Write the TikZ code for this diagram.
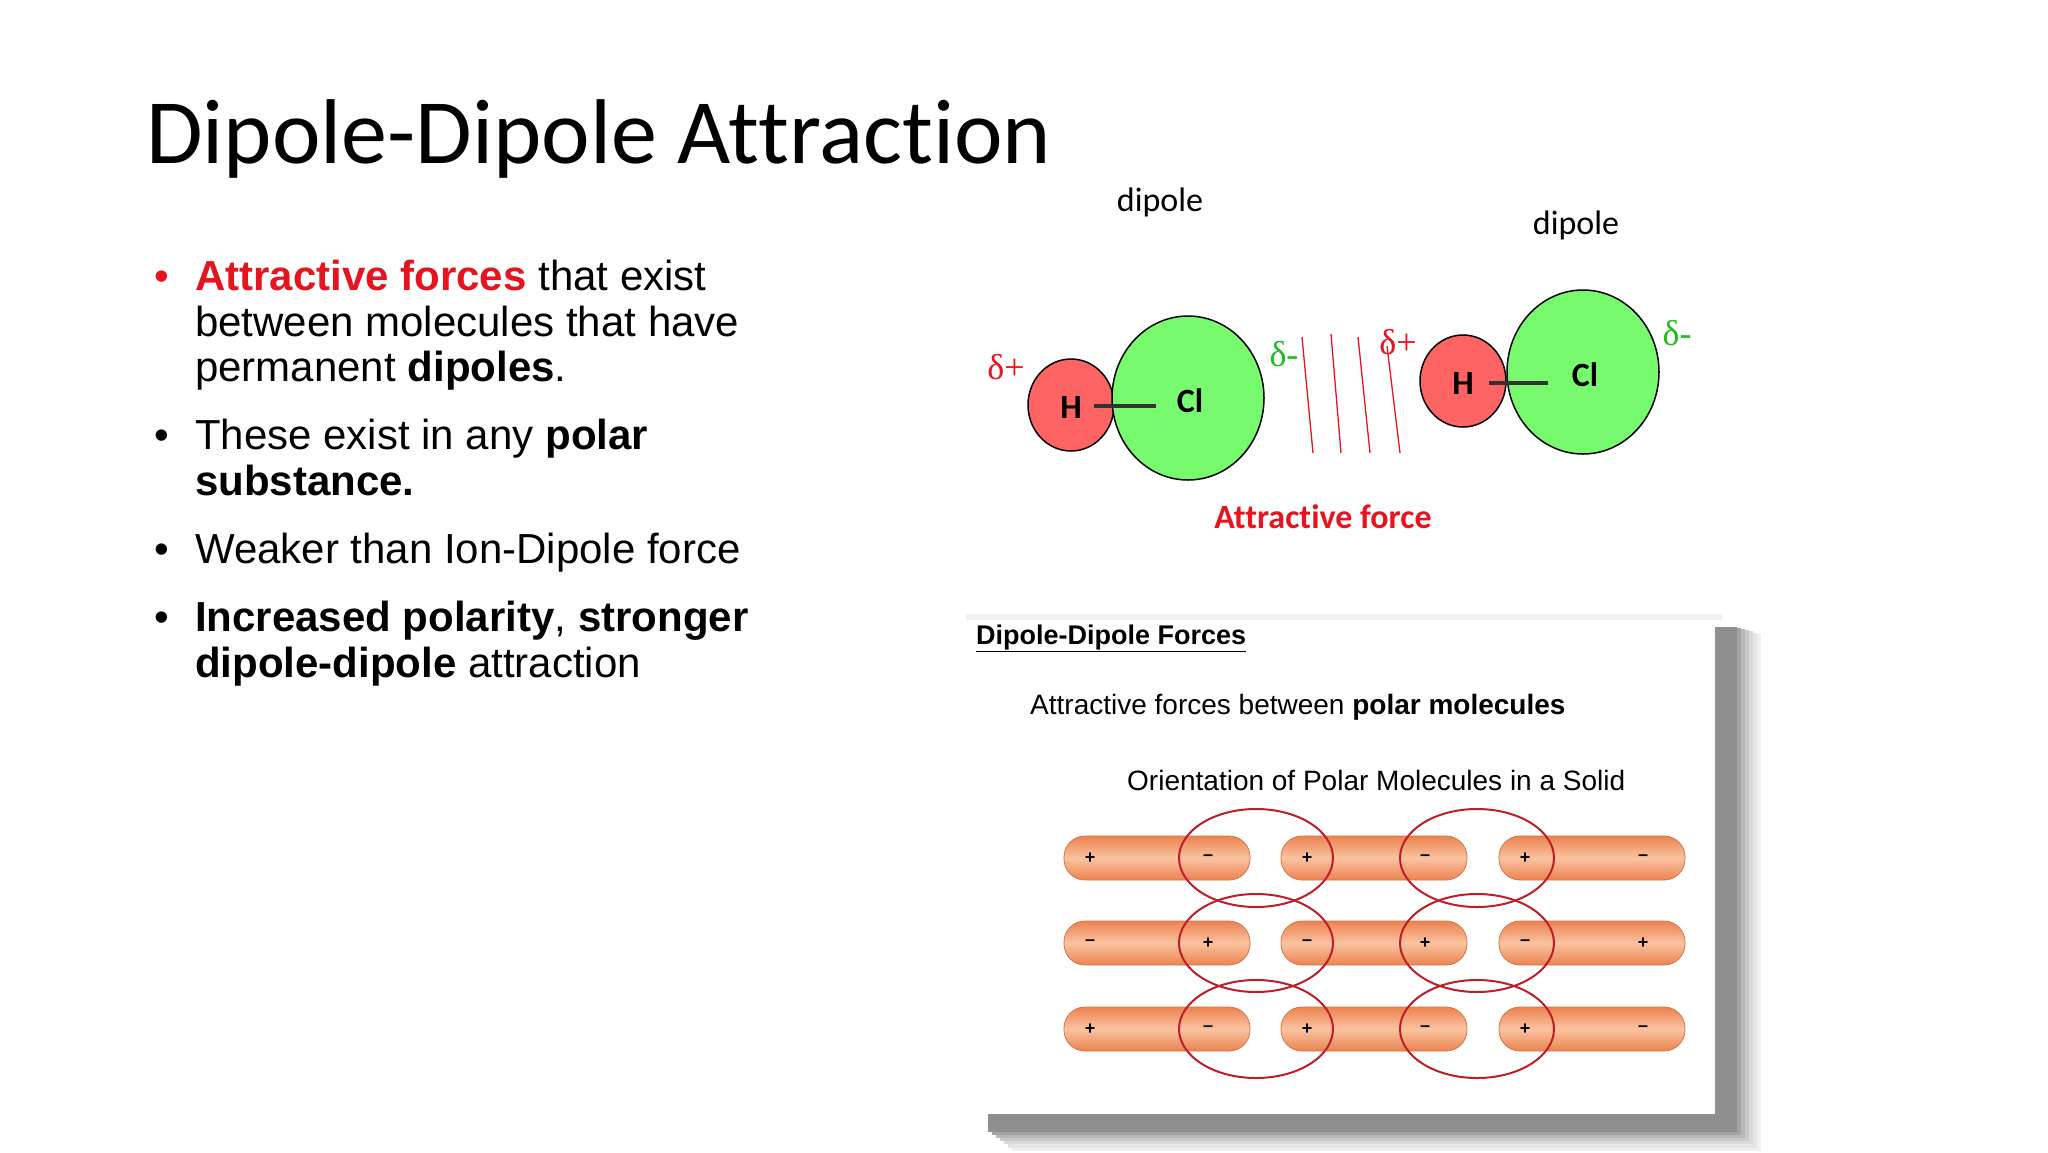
\documentclass[tikz,border=0pt]{standalone}
\usepackage{fontspec}
\setmainfont{Liberation Sans}
\newfontfamily\carl[Ligatures=CommonOff]{Carlito}
\newfontfamily\dserif{Liberation Serif}
\usetikzlibrary{shapes.geometric}
\definecolor{dred}{RGB}{230,20,30}
\definecolor{hred}{RGB}{255,100,100}
\definecolor{clgreen}{RGB}{120,250,110}
\definecolor{dgreen}{RGB}{30,190,30}
\definecolor{ringred}{RGB}{190,30,40}
\definecolor{rodA}{RGB}{236,130,80}
\definecolor{rodB}{RGB}{250,195,160}
\tikzset{
  bul/.style={anchor=base west,font=\fontsize{42}{46}\selectfont,align=left},
  atomH/.style={ellipse,draw=black,line width=1.5pt,fill=hred,minimum width=86pt,minimum height=92pt},
  atomCl/.style={ellipse,draw=black,line width=1.5pt,fill=clgreen,minimum width=152pt,minimum height=164pt},
  sym/.style={font=\carl\bfseries\fontsize{34}{34}\selectfont},
  bond/.style={line width=4pt,draw=black!80},
  delta/.style={font=\dserif\fontsize{36}{36}\selectfont},
  dlab/.style={font=\carl\fontsize{34}{34}\selectfont},
  fline/.style={draw=dred,line width=1.3pt},
  rod/.style={rounded corners=21pt,top color=rodA,bottom color=rodA,middle color=rodB,draw=rodA!90!black,line width=0.8pt,minimum width=186pt,minimum height=44pt},
  ring/.style={ellipse,draw=ringred,line width=2pt,minimum width=154pt,minimum height=98pt},
  sgn/.style={font=\bfseries\fontsize{18}{18}\selectfont},
  ptxt/.style={anchor=base west,font=\fontsize{28}{28}\selectfont}
}
\begin{document}
\begin{tikzpicture}[x=1pt,y=-1pt]
\useasboundingbox (0,0) rectangle (2048,1152);
\fill[white] (0,0) rectangle (2048,1152);
\node[anchor=base west,inner sep=0,font=\carl\fontsize{92}{92}\selectfont] (title) at (146,163) {Dipole-Dipole Attraction};
% bullets
\node[anchor=base,text=dred,font=\fontsize{42}{42}\selectfont] (b1) at (162,290) {\textbullet};
\node[bul,inner sep=0] (t1) at (195,290) {\textbf{\color{dred}Attractive forces} that exist};
\node[bul,inner sep=0] (t1b) at (195,336) {between molecules that have};
\node[bul,inner sep=0] (t1c) at (195,381) {permanent \textbf{dipoles}.};
\node[anchor=base,font=\fontsize{42}{42}\selectfont] (b2) at (162,449) {\textbullet};
\node[bul,inner sep=0] (t2) at (195,449) {These exist in any \textbf{polar}};
\node[bul,inner sep=0] (t2b) at (195,495) {\textbf{substance.}};
\node[anchor=base,font=\fontsize{42}{42}\selectfont] (b3) at (162,563) {\textbullet};
\node[bul,inner sep=0] (t3) at (195,563) {Weaker than Ion-Dipole force};
\node[anchor=base,font=\fontsize{42}{42}\selectfont] (b4) at (162,631) {\textbullet};
\node[bul,inner sep=0] (t4) at (195,631) {\textbf{Increased polarity}, \textbf{stronger}};
\node[bul,inner sep=0] (t4b) at (195,677) {\textbf{dipole-dipole} attraction};
% molecules
\node[dlab] (dp1) at (1160,202) {dipole};
\node[dlab] (dp2) at (1576,225) {dipole};
\node[atomH] (h1) at (1071,405) {};
\node[atomCl] (c1) at (1188,398) {};
\node[atomH] (h2) at (1463,381) {};
\node[atomCl] (c2) at (1583,372) {};
\coordinate (b1s) at (1094,406); \coordinate (b1e) at (1156,406);
\coordinate (b2s) at (1489,383); \coordinate (b2e) at (1548,383);
\draw[bond] (b1s) -- (b1e);
\draw[bond] (b2s) -- (b2e);
\node[sym] (hl1) at (1071,407) {H};
\node[sym] (cl1) at (1190,401) {Cl};
\node[sym] (hl2) at (1463,383) {H};
\node[sym] (cl2) at (1585,375) {Cl};
\node[delta,text=dred] (dp) at (1006,367) {δ+};
\node[delta,text=dgreen] (dm) at (1284,354) {δ-};
\node[delta,text=dred] (dp3) at (1398,342) {δ+};
\node[delta,text=dgreen] (dm2) at (1677,333) {δ-};
\coordinate (l1a) at (1302,337); \coordinate (l1b) at (1313,453);
\coordinate (l2a) at (1331,334); \coordinate (l2b) at (1341,453);
\coordinate (l3a) at (1358,337); \coordinate (l3b) at (1370,453);
\coordinate (l4a) at (1387,346); \coordinate (l4b) at (1400,453);
\draw[fline] (l1a)--(l1b); \draw[fline] (l2a)--(l2b);
\draw[fline] (l3a)--(l3b); \draw[fline] (l4a)--(l4b);
\node[font=\carl\bfseries\fontsize{34}{34}\selectfont,text=dred] (af) at (1323,517) {Attractive force};
% panel with shadow
\foreach \o/\c in {46/6,42/10,38/15,34/21,30/28,26/36,22/44}{
  \fill[black!\c] (966+\o,620+\o*0.3) rectangle (1715+\o,1114+\o*0.8);
}
\fill[black!6] (966,614) rectangle (1722,620);
\fill[white] (966,620) rectangle (1715,1114);
\node[ptxt,inner sep=0,font=\bfseries\fontsize{27}{27}\selectfont] (pt) at (976,644) {\underline{Dipole-Dipole Forces}};
\node[ptxt,inner sep=0] (p1) at (1030,714) {Attractive forces between \textbf{polar molecules}};
\node[ptxt,inner sep=0] (p2) at (1127,790) {Orientation of Polar Molecules in a Solid};
\foreach \r/\y/\sa/\sb in {1/858/+/–,2/943/–/+,3/1029/+/–}{
  \foreach \c/\x in {1/1157,2/1374,3/1592}{
    \node[rod] (rod\r\c) at (\x,\y) {};
    \node[sgn] (s\r\c a) at (\x-67,\y) {\sa};
    \node[sgn] (s\r\c b) at (\x+51,\y) {\sb};
  }
  \node[ring] (ra\r) at (1256,\y) {};
  \node[ring] (rb\r) at (1477,\y) {};
}
\end{tikzpicture}
\end{document}
